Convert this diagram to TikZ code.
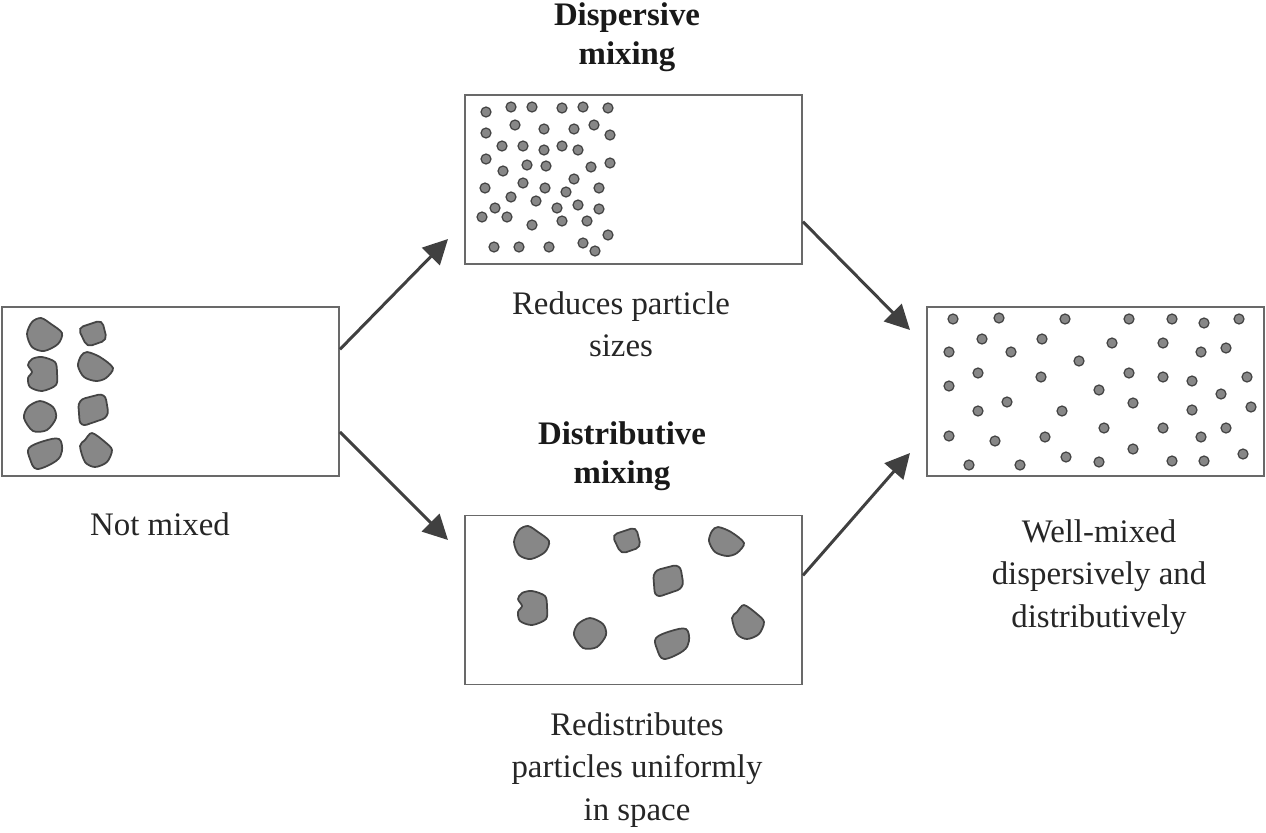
\documentclass[tikz,border=0pt]{standalone}
\usepackage{fontspec}
\setmainfont{Liberation Serif}
\usetikzlibrary{arrows.meta}

\definecolor{boxgray}{RGB}{105,105,105}
\definecolor{arrowgray}{RGB}{64,64,64}
\definecolor{lumpfill}{RGB}{135,135,135}
\definecolor{lumpline}{RGB}{68,68,68}

\tikzset{
  box/.style={draw=boxgray, line width=1.1pt, rectangle, inner sep=0pt,
    minimum width=6.74cm, minimum height=3.38cm},
  flow/.style={draw=arrowgray, line width=1.7pt, -{Triangle[length=14pt, width=14pt]}},
  caption/.style={align=center, text=black!85, font=\fontsize{18.7}{24}\selectfont},
  heading/.style={align=center, text=black!90, font=\fontsize{18.7}{22.5}\selectfont\bfseries},
  lump/.style={draw=lumpline, fill=lumpfill, line width=1pt},
  speck/.style={draw=lumpline, fill=lumpfill, line width=0.7pt},
  lumpa/.pic={\path[lump] plot[smooth cycle] coordinates
    {(-3,-16) (7,-10) (18,-1) (14,10) (0,17) (-12,13) (-17,0) (-12,-12)};},
  lumpb/.pic={\path[lump, rounded corners=3pt] (-15,-6) -- (9,-14) -- (14,6) -- (-6,13) -- cycle;},
  lumpc/.pic={\path[lump] plot[smooth cycle] coordinates
    {(0,-17) (13,-12) (15,-1) (14,11) (0,17) (-12,13) (-14,4) (-10,-2) (-14,-9) (-10,-15)};},
  lumpd/.pic={\path[lump] plot[smooth cycle] coordinates
    {(-9,-15) (4,-10) (17,1) (10,11) (0,14) (-12,10) (-18,-1) (-15,-11)};},
  lumpe/.pic={\path[lump] plot[smooth cycle] coordinates
    {(0,-16) (13,-10) (16,1) (7,13) (-7,14) (-16,1) (-12,-10)};},
  lumpf/.pic={\path[lump, rounded corners=4pt] (-15,-9) -- (12,-16) -- (16,8) -- (-13,18) -- cycle;},
  lumpg/.pic={\path[lump] plot[smooth cycle, tension=0.6] coordinates
    {(-15,-5) (0,-12) (15,-14) (18,-2) (12,8) (-7,16) (-14,6)};},
  lumph/.pic={\path[lump] plot[smooth cycle] coordinates
    {(-3,-17) (10,-8) (17,0) (12,12) (0,17) (-10,12) (-15,-4) (-10,-10)};},
}

\begin{document}
\begin{tikzpicture}[x=0.02cm, y=-0.02cm]
\useasboundingbox (0,0) rectangle (1266,832);

% the four boxes
\node (unmixed) [box] at (170.5, 391.5) {};
\node (dispersed) [box] at (633.5, 179.5) {};
\node (distributed) [box] at (633.5, 600) {};
\node (wellmixed) [box] at (1095.5, 391.5) {};

% texts
\node (dispname) [heading] at (627, 37) {Dispersive\\mixing};
\node (dispnote) [caption] at (621, 324) {Reduces particle\\sizes};
\node (distname) [heading] at (622, 456) {Distributive\\mixing};
\node (distnote) [caption] at (637, 770) {Redistributes\\particles uniformly\\in space};
\node (unmixednote) [caption] at (160, 524) {Not mixed};
\node (wellnote) [caption] at (1099, 577) {Well-mixed\\dispersively and\\distributively};

% lumps, not mixed
\pic at (44, 334) {lumpa};
\pic at (93, 334) {lumpb};
\pic at (42, 374) {lumpc};
\pic at (96, 367) {lumpd};
\pic at (40, 417) {lumpe};
\pic at (93, 409) {lumpf};
\pic at (44, 453) {lumpg};
\pic at (95, 450) {lumph};

% lumps, spread out
\pic at (531, 542) {lumpa};
\pic at (627, 541) {lumpb};
\pic at (727, 542) {lumpd};
\pic at (668, 580) {lumpf};
\pic at (532, 608) {lumpc};
\pic at (590, 634) {lumpe};
\pic at (671, 643) {lumpg};
\pic at (747, 622) {lumph};

% small particles
\foreach \x/\y in {486/112, 511/107, 532/107, 562/108, 583/107, 608/108,
  486/133, 515/125, 544/129, 574/129, 594/125, 610/135,
  502/146, 523/146, 544/150, 562/146, 578/150,
  486/159, 503/171, 527/165, 546/166, 591/167, 610/163,
  485/188, 523/183, 545/188, 574/179, 566/192, 599/188,
  511/197, 536/201, 495/208, 482/217, 507/217, 557/208, 578/205, 599/209,
  532/225, 562/221, 587/221, 608/235,
  494/247, 519/247, 549/247, 583/243, 595/251}
  \path[speck] (\x, \y) circle [radius=5];

\foreach \x/\y in {953/319, 999/318, 1065/319, 1129/319, 1172/319, 1204/323, 1239/319,
  982/339, 1042/339, 1112/343, 1163/343, 1226/348,
  949/352, 1011/352, 1201/352, 1079/361,
  978/373, 1041/377, 1129/373, 1163/377, 1192/381, 1247/377,
  949/386, 1099/390, 1221/394, 1007/402, 1133/403,
  978/411, 1062/411, 1192/410, 1251/407,
  949/436, 995/441, 1045/437, 1104/428, 1163/428, 1201/437, 1226/428,
  1133/449, 1243/454,
  969/465, 1020/465, 1066/457, 1099/462, 1172/461, 1204/461}
  \path[speck] (\x, \y) circle [radius=5];

% arrows
\coordinate (dispin) at (448, 239);
\coordinate (distin) at (448, 540);
\coordinate (wellina) at (910, 330);
\coordinate (wellinb) at (910, 453);

\draw [flow] ([yshift=24pt]unmixed.east) -- (dispin);
\draw [flow] ([yshift=-23pt]unmixed.east) -- (distin);
\draw [flow] ([yshift=-24pt]dispersed.east) -- (wellina);
\draw [flow] ([yshift=14pt]distributed.east) -- (wellinb);

\end{tikzpicture}
\end{document}
